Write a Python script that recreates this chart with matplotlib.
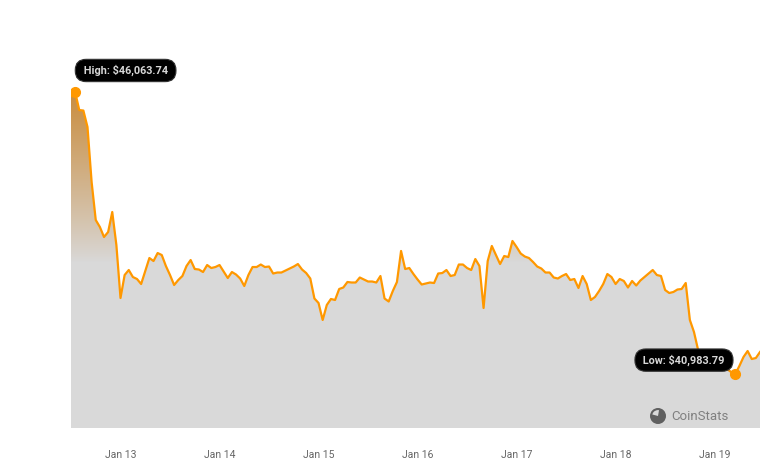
import numpy as np
import pandas as pd
import matplotlib
matplotlib.use("Agg")
import matplotlib.pyplot as plt
import matplotlib.dates as mdates
from matplotlib.patches import Circle, Wedge, PathPatch
from matplotlib.path import Path

# hourly BTC price, Jan 12 12:00 -> Jan 19 11:00
prices = [
    45992, 46063.74, 45739, 45730, 45433, 44442, 43758, 43632, 43452, 43542,
    43902, 43308, 42353, 42767, 42857, 42731, 42695, 42605, 42839, 43073,
    43019, 43163, 43127, 42929, 42767, 42587, 42677, 42749, 42929, 43037,
    42875, 42866, 42821, 42947, 42893, 42911, 42947, 42830, 42713, 42821,
    42776, 42704, 42569, 42767, 42911, 42911, 42956, 42911, 42920, 42794,
    42812, 42812, 42848, 42884, 42920, 42965, 42866, 42803, 42704, 42344,
    42263, 41957, 42227, 42335, 42317, 42515, 42542, 42641, 42632, 42632,
    42722, 42686, 42650, 42650, 42632, 42749, 42344, 42290, 42479, 42641,
    43200, 42875, 42893, 42785, 42686, 42596, 42614, 42632, 42623, 42794,
    42803, 42857, 42749, 42767, 42956, 42956, 42893, 42857, 43055, 42929,
    42173, 43019, 43290, 43127, 42965, 43109, 43091, 43380, 43272, 43154,
    43100, 43073, 43001, 42920, 42884, 42812, 42812, 42722, 42704, 42749,
    42785, 42677, 42695, 42533, 42749, 42605, 42317, 42371, 42479, 42605,
    42785, 42731, 42605, 42695, 42659, 42542, 42659, 42578, 42668, 42731,
    42794, 42857, 42767, 42749, 42497, 42443, 42461, 42506, 42515, 42623,
    41957, 41740, 41416, 41236, 41128, 41164, 41092, 41110, 41056, 41074,
    41020, 40983.79, 41128, 41290, 41398, 41254, 41272, 41380,
]
dates = pd.date_range("2024-01-12 12:00", periods=len(prices), freq="h")
tick_dates = pd.date_range("2024-01-13", "2024-01-19", freq="D")
tick_labels = ["Jan 13", "Jan 14", "Jan 15", "Jan 16", "Jan 17", "Jan 18", "Jan 19"]

high_label = "High: $46,063.74"
low_label = "Low: $40,983.79"

LINE = "#ff9800"

plt.rcParams["font.family"] = ["Roboto", "DejaVu Sans"]

x = mdates.date2num(dates.to_pydatetime())
y = np.array(prices)
ymin, ymax = 40011, 47361

fig = plt.figure(figsize=(7.6, 4.72), dpi=100)
ax = fig.add_axes([71 / 760, 1 - 428 / 472, 1 - 71 / 760, (428 - 20) / 472])
ax.set_xlim(x[0], x[-1])
ax.set_ylim(ymin, ymax)

# gradient fill under the line, clipped to the area polygon
verts = np.vstack([[x[0], ymin], np.column_stack([x, y]), [x[-1], ymin], [x[0], ymin]])
clip = PathPatch(Path(verts), facecolor="none", edgecolor="none")
ax.add_patch(clip)

n = 400
vals = np.linspace(ymax, ymin, n)
top = np.array([0.79, 0.55, 0.24])
bot = np.array([0.851, 0.851, 0.851])
t = np.clip((vals - 43000) / (46100 - 43000), 0, 1)[:, None] ** 0.9
grad = bot + (top - bot) * t
img = ax.imshow(grad[:, None, :], extent=[x[0], x[-1], ymin, ymax],
                aspect="auto", origin="upper", zorder=1)
img.set_clip_path(clip)

ax.plot(x, y, color=LINE, lw=1.6, zorder=3)

ihi = int(np.argmax(y))
ilo = int(np.argmin(y))
ax.plot([x[ihi], x[ilo]], [y[ihi], y[ilo]], "o", color=LINE, ms=7, zorder=4)

box = dict(boxstyle="round,pad=0.5,rounding_size=1.0", fc="black", ec="#333333", lw=0.8)
ax.annotate(" " + high_label + " ", (x[ihi], y[ihi]), xytext=(4, 15.5),
            textcoords="offset points", ha="left", va="center", color="#d8d8d8",
            fontsize=7.8, fontweight="bold", bbox=box, zorder=5)
ax.annotate(" " + low_label + " ", (x[ilo], y[ilo]), xytext=(-5.5, 10),
            textcoords="offset points", ha="right", va="center", color="#d8d8d8",
            fontsize=7.8, fontweight="bold", bbox=box, zorder=5)

ax.set_xticks(mdates.date2num(tick_dates.to_pydatetime()))
ax.set_xticklabels(tick_labels, color="#666666", fontsize=7.5)
ax.tick_params(axis="x", length=0, pad=15.5)
ax.set_yticks([])
for s in ax.spines.values():
    s.set_visible(False)

# watermark
fig.text(671 / 760, 1 - 416 / 472, "CoinStats", color="#808080", fontsize=9.5,
         ha="left", va="center")
iax = fig.add_axes([649 / 760, 1 - 425 / 472, 18 / 760, 18 / 472])
iax.set_xlim(-1.1, 1.1)
iax.set_ylim(-1.1, 1.1)
iax.set_aspect("equal")
iax.axis("off")
iax.add_patch(Circle((0, 0), 0.85, fc="none", ec="#606060", lw=1.5))
iax.add_patch(Wedge((0, 0), 0.85, 165, 440, fc="#606060", ec="none"))

fig.savefig("out.png", dpi=100)
